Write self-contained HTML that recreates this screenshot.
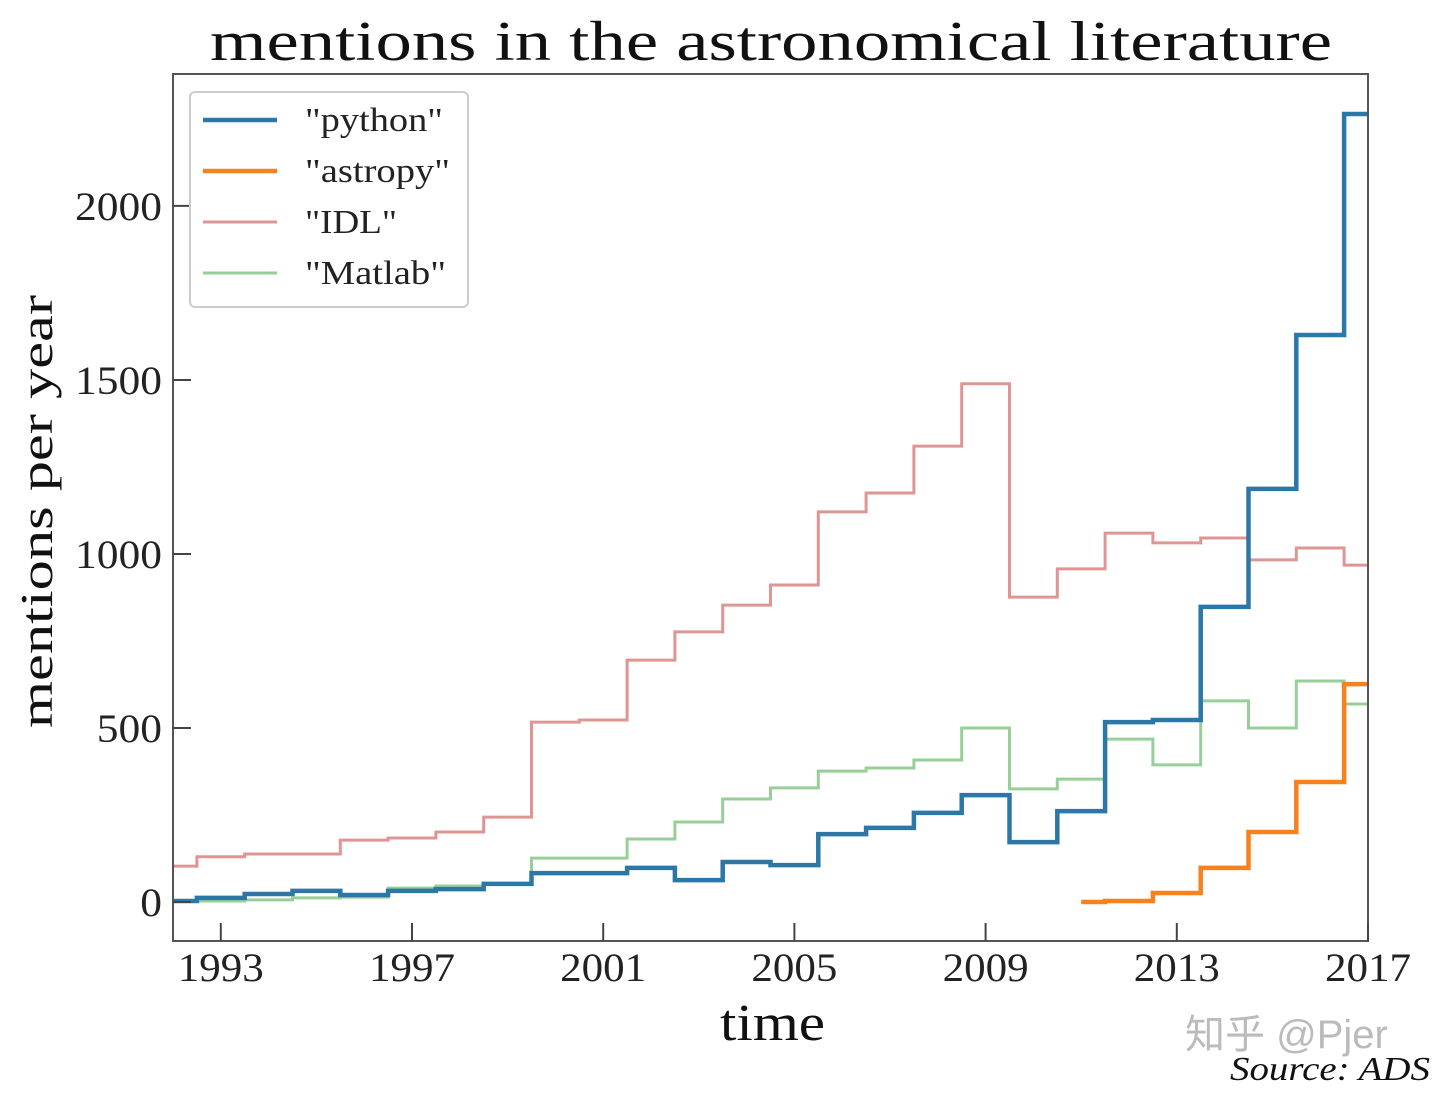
<!DOCTYPE html>
<html><head><meta charset="utf-8"><style>
html,body{margin:0;padding:0;background:#fff;}
svg{display:block;font-family:"Liberation Serif",serif;}
</style></head><body>
<svg id="chart" width="1440" height="1098" xmlns="http://www.w3.org/2000/svg">
<text x="210" y="60" font-size="56" textLength="1122" lengthAdjust="spacingAndGlyphs" fill="#111">mentions in the astronomical literature</text>
<g id="plot"></g>
<text transform="translate(52,728) rotate(-90)" font-size="46" textLength="433" lengthAdjust="spacingAndGlyphs" fill="#111">mentions per year</text>
<text x="720" y="1040" font-size="52" textLength="105" lengthAdjust="spacingAndGlyphs" fill="#111">time</text>
<text x="1185" y="1048" font-size="40" fill="#bbb" font-family="'Liberation Sans','Noto Sans CJK SC',sans-serif">知乎 @Pjer</text>
<text x="1230" y="1080" font-size="34" font-style="italic" textLength="200" lengthAdjust="spacingAndGlyphs" fill="#111">Source: ADS</text>
</svg>
<script>
const years = [1992,1993,1994,1995,1996,1997,1998,1999,2000,2001,2002,2003,2004,2005,2006,2007,2008,2009,2010,2011,2012,2013,2014,2015,2016,2017];
const idlValues = [103,130,138,138,178,184,201,244,517,523,695,776,853,911,1121,1175,1310,1489,876,957,1060,1032,1046,983,1017,968];
const matlabValues = [3,3,6,12,14,40,46,52,126,126,181,230,296,328,376,385,408,500,325,353,468,394,578,500,635,569];
const pythonValues = [3,12,23,32,20,32,37,52,83,83,98,63,115,106,195,213,256,307,172,261,517,523,848,1187,1629,2264];
const astropyYears = [2011,2012,2013,2014,2015,2016,2017];
const astropyValues = [0,3,26,98,201,345,626];
const xTicks = [1993,1997,2001,2005,2009,2013,2017];
const yTicks = [0,500,1000,1500,2000];

const L=173,R=1368,T=74,B=941, X0=1992,X1=2017, Y0=-112,Y1=2379;
const xs=v=>L+(v-X0)/(X1-X0)*(R-L);
const ys=v=>B-(v-Y0)/(Y1-Y0)*(B-T);
const NS="http://www.w3.org/2000/svg";
const plot=document.getElementById('plot');
function mk(tag,attrs,parent){const e=document.createElementNS(NS,tag);for(const k in attrs)e.setAttribute(k,attrs[k]);(parent||plot).appendChild(e);return e;}
function stepPath(xv,yv){
  let d='';
  for(let i=0;i<xv.length;i++){
    const a=i===0?xv[i]:(xv[i-1]+xv[i])/2;
    const b=i===xv.length-1?xv[i]:(xv[i]+xv[i+1])/2;
    d+=(i===0?'M':'L')+xs(a)+','+ys(yv[i])+'L'+xs(b)+','+ys(yv[i]);
  }
  return d;
}
const series=[
  {n:'idl-line',x:years,y:idlValues,c:'#dd9694',w:3},
  {n:'matlab-line',x:years,y:matlabValues,c:'#98cf98',w:3},
  {n:'python-line',x:years,y:pythonValues,c:'#2b78a8',w:4.5},
  {n:'astropy-line',x:astropyYears,y:astropyValues,c:'#f5821f',w:4.5}
];
series.forEach(s=>{
  const p=mk('path',{d:stepPath(s.x,s.y),fill:'none',stroke:s.c,'stroke-width':s.w});
  
  
});
const frame=mk('rect',{x:L,y:T,width:R-L,height:B-T,fill:'none',stroke:'#555','stroke-width':2});


xTicks.forEach(t=>{
  const x=xs(t);
  mk('line',{x1:x,x2:x,y1:B,y2:B-18,stroke:'#444','stroke-width':2});
  const tx=mk('text',{x:x-43,y:B+40,'font-size':40,textLength:86,lengthAdjust:'spacingAndGlyphs',fill:'#222'});
  tx.textContent=t;
  
  
});
yTicks.forEach(t=>{
  const y=ys(t);
  mk('line',{x1:L,x2:L+18,y1:y,y2:y,stroke:'#444','stroke-width':2});
  const w=String(t).length*21.75;
  const tx=mk('text',{x:L-11-w,y:y+14,'font-size':40,textLength:w,lengthAdjust:'spacingAndGlyphs',fill:'#222'});
  tx.textContent=t;
  
  
});
const lg=mk('g',{});


mk('rect',{x:190,y:92,width:278,height:215,rx:5,fill:'#fff',stroke:'#ccc','stroke-width':2},lg);
const legItems=[['"python"','#2b78a8',4.5,138],['"astropy"','#f5821f',4.5,145],['"IDL"','#dd9694',3,92],['"Matlab"','#98cf98',3,141]];
legItems.forEach((it,i)=>{
  const y=120+i*51;
  const g=mk('g',{},lg);
  
  
  mk('line',{x1:203,x2:277,y1:y,y2:y,stroke:it[1],'stroke-width':it[2]},g);
  const t=mk('text',{x:305,y:y+11,'font-size':34,textLength:it[3],lengthAdjust:'spacingAndGlyphs',fill:'#222'},g);
  t.textContent=it[0];
});
</script>
</body></html>
